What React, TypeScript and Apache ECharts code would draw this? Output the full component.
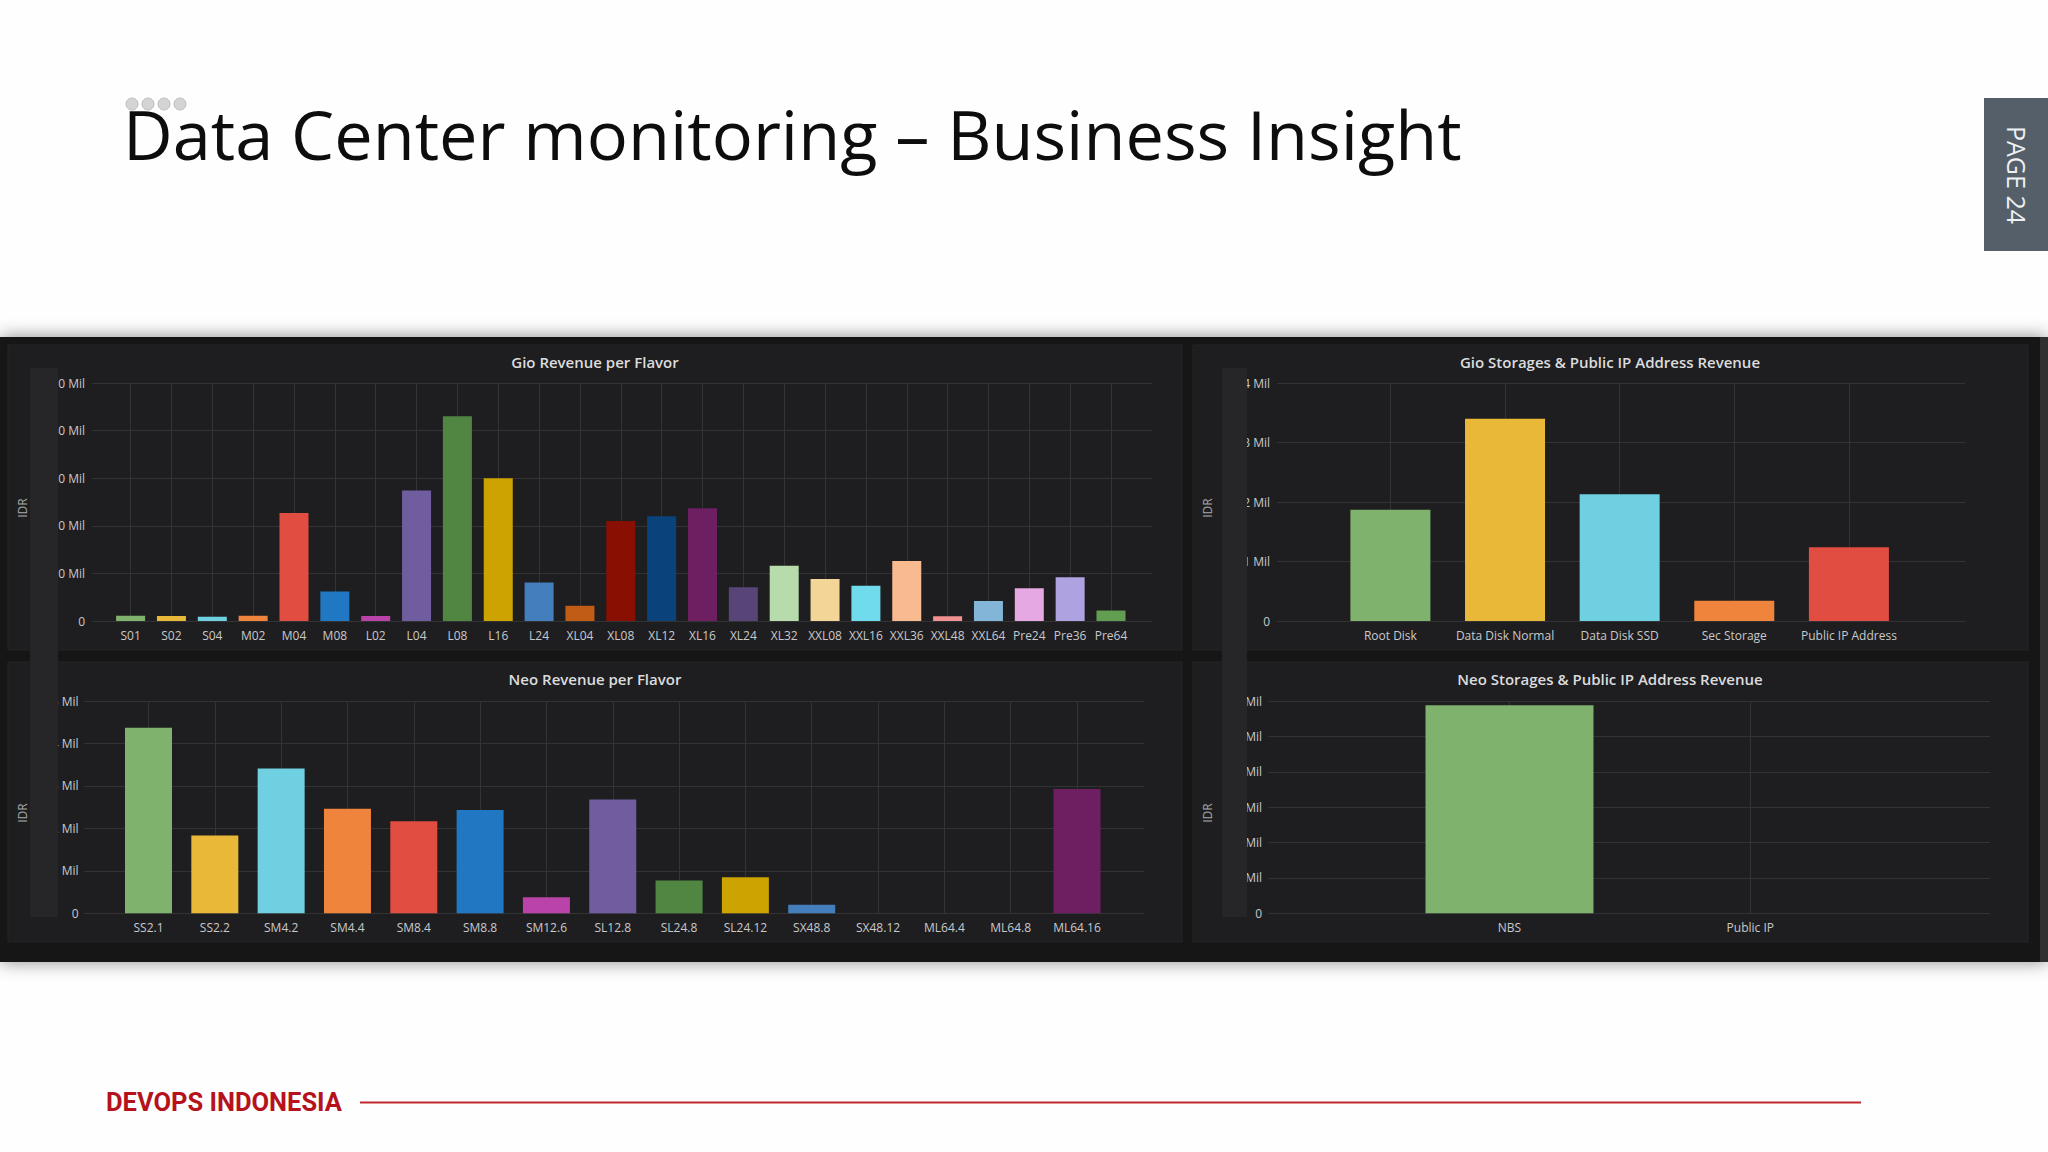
import React, { useEffect, useRef } from "react";
import * as echarts from "echarts";

// ---------- DATA ----------
const gioFlavors = ["S01", "S02", "S04", "M02", "M04", "M08", "L02", "L04", "L08", "L16", "L24", "XL04", "XL08", "XL12", "XL16", "XL24", "XL32", "XXL08", "XXL16", "XXL36", "XXL48", "XXL64", "Pre24", "Pre36", "Pre64"];
const gioFlavorRevenue = [1.1, 1.05, 0.9, 1.1, 22.7, 6.2, 1.05, 27.4, 43.0, 30.0, 8.1, 3.2, 21.0, 22.0, 23.7, 7.1, 11.6, 8.8, 7.4, 12.6, 1.0, 4.2, 6.9, 9.2, 2.2];
const gioFlavorTicks = [0, 10, 20, 30, 40, 50];

const gioStorages = ["Root Disk", "Data Disk Normal", "Data Disk SSD", "Sec Storage", "Public IP Address"];
const gioStorageRevenue = [1.87, 3.4, 2.13, 0.34, 1.24];
const gioStorageTicks = [0, 1, 2, 3, 4];

const neoFlavors = ["SS2.1", "SS2.2", "SM4.2", "SM4.4", "SM8.4", "SM8.8", "SM12.6", "SL12.8", "SL24.8", "SL24.12", "SX48.8", "SX48.12", "ML64.4", "ML64.8", "ML64.16"];
const neoFlavorRevenue = [4.37, 1.83, 3.41, 2.46, 2.17, 2.43, 0.38, 2.68, 0.77, 0.85, 0.2, 0, 0, 0, 2.93];
const neoFlavorTicks = [0, 1, 2, 3, 4, 5];

const neoStorages = ["NBS", "Public IP"];
const neoStorageRevenue = [5.88, 0];
const neoStorageTicks = [0, 1, 2, 3, 4, 5, 6];

const palette = ["#7eb26d", "#eab839", "#6ed0e0", "#ef843c", "#e24d42", "#1f78c1", "#ba43a9", "#705da0", "#508642", "#cca300", "#447ebc", "#c15c17", "#890f02", "#0a437c", "#6d1f62", "#584477", "#b7dbab", "#f4d598", "#70dbed", "#f9ba8f", "#f29191", "#82b5d8", "#e5a8e2", "#aea2e0", "#629e51"];

const FONT = "Open Sans";
const GRID_LINE = "#333336";
const LABEL = "#c9c9cb";

type ChartCfg = {
  title: string;
  cats: string[];
  values: number[];
  ticks: number[];
  lineGrid: { left: number; right: number; top: number; bottom: number };
  barGrid: { left: number; right: number };
  barWidth: number;
  labelMargin: number;
};

function buildChart(cfg: ChartCfg, idx: number) {
  const a = idx * 2;
  const b = idx * 2 + 1;
  const min = cfg.ticks[0];
  const max = cfg.ticks[cfg.ticks.length - 1];
  const interval = cfg.ticks[1] - cfg.ticks[0];
  const grids = [
    { left: cfg.lineGrid.left, width: cfg.lineGrid.right - cfg.lineGrid.left, top: cfg.lineGrid.top, height: cfg.lineGrid.bottom - cfg.lineGrid.top },
    { left: cfg.barGrid.left, width: cfg.barGrid.right - cfg.barGrid.left, top: cfg.lineGrid.top, height: cfg.lineGrid.bottom - cfg.lineGrid.top },
  ];
  const xAxes = [
    { gridIndex: a, type: "value", show: false },
    {
      gridIndex: b,
      type: "category",
      data: cfg.cats,
      boundaryGap: false,
      axisLine: { show: false },
      axisTick: { show: false },
      splitLine: { show: true, interval: 0, lineStyle: { color: GRID_LINE, width: 1 } },
      axisLabel: { interval: 0, color: LABEL, fontFamily: FONT, fontSize: 12, margin: 8 },
    },
  ];
  const yAxes = [
    {
      gridIndex: a,
      type: "value",
      min,
      max,
      interval,
      axisLine: { show: false },
      axisTick: { show: false },
      splitLine: { show: true, lineStyle: { color: GRID_LINE, width: 1 } },
      axisLabel: {
        color: LABEL,
        fontFamily: FONT,
        fontSize: 12,
        margin: cfg.labelMargin,
        formatter: (v: number) => (v === 0 ? "0" : v + " Mil"),
      },
    },
    { gridIndex: b, type: "value", min, max, interval, show: false },
  ];
  const series = [
    {
      type: "bar",
      xAxisIndex: b,
      yAxisIndex: b,
      barWidth: cfg.barWidth,
      clip: false,
      data: cfg.values.map((v, i) => ({ value: v, itemStyle: { color: palette[i % palette.length] } })),
    },
  ];
  return { grids, xAxes, yAxes, series };
}

const charts: ChartCfg[] = [
  {
    title: "Gio Revenue per Flavor",
    cats: gioFlavors,
    values: gioFlavorRevenue,
    ticks: gioFlavorTicks,
    lineGrid: { left: 92, right: 1152, top: 383, bottom: 621 },
    barGrid: { left: 130.6, right: 1111 },
    barWidth: 29,
    labelMargin: 7,
  },
  {
    title: "Gio Storages & Public IP Address Revenue",
    cats: gioStorages,
    values: gioStorageRevenue,
    ticks: gioStorageTicks,
    lineGrid: { left: 1277, right: 1965, top: 383, bottom: 621 },
    barGrid: { left: 1390.4, right: 1848.9 },
    barWidth: 80,
    labelMargin: 7,
  },
  {
    title: "Neo Revenue per Flavor",
    cats: neoFlavors,
    values: neoFlavorRevenue,
    ticks: neoFlavorTicks,
    lineGrid: { left: 84, right: 1144.5, top: 701, bottom: 913.3 },
    barGrid: { left: 148.5, right: 1077 },
    barWidth: 47,
    labelMargin: 5.5,
  },
  {
    title: "Neo Storages & Public IP Address Revenue",
    cats: neoStorages,
    values: neoStorageRevenue,
    ticks: neoStorageTicks,
    lineGrid: { left: 1268.6, right: 1990, top: 701, bottom: 913.3 },
    barGrid: { left: 1509.5, right: 1750.3 },
    barWidth: 168,
    labelMargin: 6.5,
  },
];

const panelRects = [
  { x: 8, y: 345, w: 1174, h: 305, tx: 595, ty: 362 },
  { x: 1193, y: 345, w: 835, h: 305, tx: 1610, ty: 362 },
  { x: 8, y: 662, w: 1174, h: 280, tx: 595, ty: 679 },
  { x: 1193, y: 662, w: 835, h: 280, tx: 1610, ty: 679 },
];

export default function App() {
  const ref = useRef<HTMLDivElement>(null);
  useEffect(() => {
    document.body.style.margin = "0";
    const chart = echarts.init(ref.current!, null, { renderer: "svg" });
    const grid: any[] = [];
    const xAxis: any[] = [];
    const yAxis: any[] = [];
    const series: any[] = [];
    charts.forEach((c, i) => {
      const r = buildChart(c, i);
      grid.push(...r.grids);
      xAxis.push(...r.xAxes);
      yAxis.push(...r.yAxes);
      series.push(...r.series);
    });

    const graphic: any[] = [
      {
        type: "rect",
        z: -20,
        shape: { x: 0, y: 337, width: 2048, height: 625 },
        style: { fill: "#141415", shadowBlur: 18, shadowColor: "rgba(0,0,0,0.45)" },
      },
      { type: "rect", z: -19, shape: { x: 2040, y: 337, width: 8, height: 625 }, style: { fill: "#303032" } },
    ];
    panelRects.forEach((p, i) => {
      graphic.push({
        type: "rect",
        z: -18,
        shape: { x: p.x, y: p.y, width: p.w, height: p.h },
        style: { fill: "#1e1e20", stroke: "#252528", lineWidth: 1 },
      });
      graphic.push({
        type: "text",
        z: 10,
        x: p.tx,
        y: p.ty,
        style: { text: charts[i].title, fill: "#dcdcde", fontFamily: FONT, fontSize: 15, fontWeight: 600, align: "center", verticalAlign: "middle" },
      });
      graphic.push({
        type: "text",
        z: 10,
        x: i % 2 === 0 ? 22 : 1207,
        y: i < 2 ? 508 : 813,
        rotation: Math.PI / 2,
        style: { text: "IDR", fill: "#a8a8aa", fontFamily: FONT, fontSize: 12, align: "center", verticalAlign: "middle" },
      });
    });
    graphic.push(
      { type: "rect", z: 50, shape: { x: 30, y: 368, width: 28, height: 549 }, style: { fill: "#262628" } },
      { type: "rect", z: 50, shape: { x: 1222, y: 368, width: 25, height: 549 }, style: { fill: "#262628" } }
    );
    graphic.push({
      type: "text",
      z: 10,
      x: 123,
      y: 133,
      style: { text: "Data Center monitoring – Business Insight", fill: "#0d0d0d", fontFamily: FONT, fontSize: 68.5, align: "left", verticalAlign: "middle" },
    });
    [132, 148, 164, 180].forEach((cx) => {
      graphic.push({ type: "circle", z: 11, shape: { cx, cy: 104, r: 6 }, style: { fill: "#d4d4d4", stroke: "#bdbdbd", lineWidth: 1 } });
    });
    graphic.push(
      { type: "rect", z: 10, shape: { x: 1984, y: 98, width: 64, height: 153 }, style: { fill: "#545f69" } },
      {
        type: "text",
        z: 11,
        x: 2017,
        y: 175,
        rotation: -Math.PI / 2,
        style: { text: "PAGE 24", fill: "#eef0f2", fontFamily: FONT, fontSize: 25, align: "center", verticalAlign: "middle" },
      }
    );
    graphic.push(
      {
        type: "text",
        z: 10,
        x: 106,
        y: 1102,
        style: { text: "DEVOPS INDONESIA", fill: "#b5121b", fontFamily: "Roboto", fontWeight: 700, fontSize: 25.5, align: "left", verticalAlign: "middle" },
      },
      { type: "line", z: 10, shape: { x1: 360, y1: 1102.5, x2: 1861, y2: 1102.5 }, style: { stroke: "#c0282d", lineWidth: 2 } }
    );

    chart.setOption({
      animation: false,
      backgroundColor: "#fefefe",
      grid,
      xAxis,
      yAxis,
      series,
      graphic,
    });
    return () => chart.dispose();
  }, []);
  return <div ref={ref} style={{ position: "absolute", left: 0, top: 0, width: 2048, height: 1152 }} />;
}
